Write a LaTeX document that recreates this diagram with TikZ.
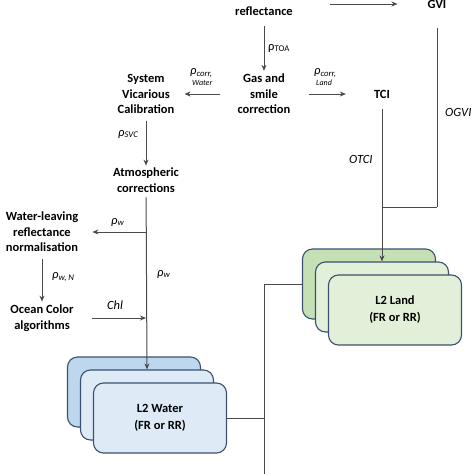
\documentclass[tikz,border=0pt]{standalone}
\usepackage{fontspec}
\setmainfont{Carlito}
\usepackage{xcolor}
\usetikzlibrary{arrows.meta}

\definecolor{waterdark}{HTML}{BDD7EE}
\definecolor{waterlight}{HTML}{DEEBF7}
\definecolor{landdark}{HTML}{C5E0B4}
\definecolor{landlight}{HTML}{E2F0D9}
\definecolor{boxline}{HTML}{3B5070}
\definecolor{wirecol}{HTML}{4A4A4A}

\tikzset{
	stage/.style={align=center, inner sep=2pt, font=\fontsize{12.5}{15.5}\selectfont\bfseries},
	product/.style={draw=boxline, line width=1.1pt, rounded corners=10pt, minimum width=133pt, minimum height=70pt, align=center, font=\fontsize{12.5}{17}\selectfont\bfseries},
	lbl/.style={anchor=west, inner sep=0pt, align=left, font=\fontsize{12.5}{13}\selectfont\itshape},
	wire/.style={draw=wirecol, line width=1pt},
	arrow/.style={wire, ->},
}

\begin{document}
\begin{tikzpicture}[x=1pt, y=-1pt, >={Stealth[length=6pt, width=5pt]}]
			\useasboundingbox[fill=white] (0,0) rectangle (474,474);

			% Processing stages
			\node[stage] (refl) at (264,11) {reflectance};
			\node[stage] (gvi) at (437,4) {GVI};
			\node[stage] (gas) at (264,94) {Gas and\\smile\\correction};
			\node[stage] (svc) at (146,94) {System\\Vicarious\\Calibration};
			\node[stage] (tci) at (382,94) {TCI};
			\node[stage] (atm) at (146,180) {Atmospheric\\corrections};
			\node[stage] (wlr) at (42,232) {Water-leaving\\reflectance\\normalisation};
			\node[stage] (ocean) at (42,318) {Ocean Color\\algorithms};

			% Stacked product boxes
			\node[product, fill=waterdark] (wback) at (134,392) {};
			\node[product, fill=waterlight] (wmid) at (147,405) {};
			\node[product, fill=waterlight] (wfront) at (160,418) {L2 Water\\(FR or RR)};
			\node[product, fill=landdark] (lback) at (369,284) {};
			\node[product, fill=landlight] (lmid) at (382,297) {};
			\node[product, fill=landlight] (lfront) at (395,310) {L2 Land\\(FR or RR)};

			% Arrows between stages
			\draw[arrow, shorten <=35pt, shorten >=28pt] (refl.east |- gvi.west) -- (gvi.west);
			\draw[arrow, shorten <=8pt, shorten >=1pt] (refl) -- (gas);
			\draw[arrow, shorten <=15pt, shorten >=8pt] (gas) -- (svc);
			\draw[arrow, shorten <=16pt, shorten >=26pt] (gas) -- (tci);
			\draw[arrow, shorten <=5pt] (svc) -- (atm);
			\draw[arrow, shorten <=3pt] (atm) -- (wmid.north);
			\draw[arrow, shorten >=12pt] (atm |- wlr) -- (wlr);
			\draw[arrow, shorten <=5pt, shorten >=1pt] (wlr) -- (ocean);
			\draw[arrow, shorten <=16pt] (ocean) -- (ocean -| atm);
			\draw[arrow, shorten <=9pt] (tci) -- (lmid.north);

			% GVI joins the TCI line
			\coordinate (gvijoin) at (437,207);
			\draw[wire, shorten <=18pt] (gvi) -- (gvijoin);
			\draw[wire] (gvijoin) -- (gvijoin -| tci);

			% Line linking both products
			\coordinate (busend) at (264,480);
			\draw[wire] (lback.west) -| (busend);
			\draw[wire] (wfront.east) -- (wfront.east -| busend);

			% Arrow labels
			\node[lbl, font=\fontsize{12.5}{13}\selectfont] (ltoa) at (268,48) {ρ\textsubscript{TOA}};
			\node[lbl] (lcw) at (190,77) {ρ\textsubscript{corr,}\\[-2pt]{\fontsize{8}{9}\selectfont\hspace{2pt}Water}};
			\node[lbl] (lcl) at (314,77) {ρ\textsubscript{corr,}\\[-2pt]{\fontsize{8}{9}\selectfont\hspace{2pt}Land}};
			\node[lbl] (lsvc) at (118,134) {ρ\textsubscript{SVC}};
			\node[lbl] (lotci) at (349,159) {OTCI};
			\node[lbl] (logvi) at (445,112) {OGVI};
			\node[lbl] (lw) at (111,222) {ρ\textsubscript{w}};
			\node[lbl] (lwv) at (157,274) {ρ\textsubscript{w}};
			\node[lbl] (lwn) at (52,277) {ρ\textsubscript{w, N}};
			\node[lbl] (lchl) at (107,305) {Chl};

		\end{tikzpicture}
\end{document}
